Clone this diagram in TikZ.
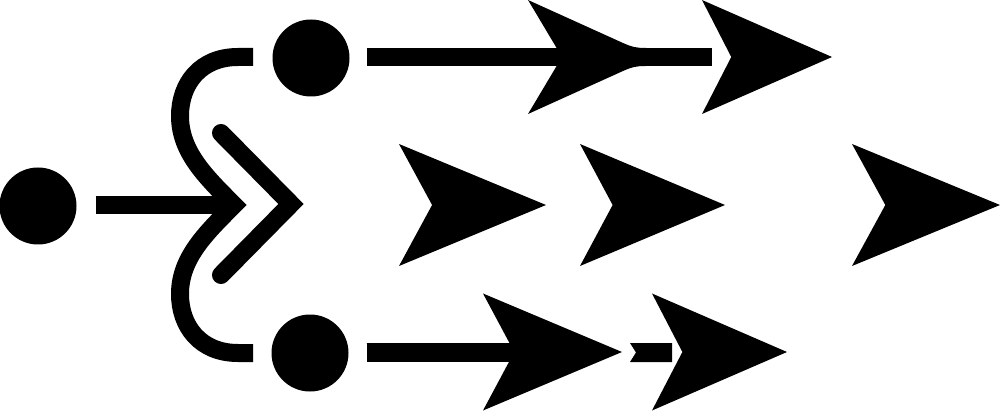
\documentclass[tikz,border=0pt]{standalone}
\usetikzlibrary{positioning}
\tikzset{
  dot/.style={circle,fill=black,inner sep=0pt,minimum size=77pt},
  shaft/.style={line width=18pt,line cap=butt},
  scurve/.style={line width=18pt,line cap=butt,miter limit=10},
  chev/.style={line width=18pt,line cap=round,miter limit=10}
}
% back x, centre y, half height, length
\newcommand{\ahead}[4]{\fill (#1,#2-#3)--(#1+#4,#2)--(#1,#2+#3)--(#1+0.225*#4,#2)--cycle;}
\begin{document}
\begin{tikzpicture}[x=1pt,y=-1pt]
	\useasboundingbox (0,0) rectangle (1000,411);
	\node[dot] (src) at (38,206) {};
	\node[dot] (up) at (311,58) {};
	\node[dot] (down) at (310,353) {};
	\coordinate (join) at (232,205);
	\draw[shaft] (src.east)++(19,-1)--(join);
	\draw[scurve] (253,57)--(238,57) .. controls (200,57) and (180,84) .. (180,116) .. controls (180,152) and (206,177) .. (234,205)
		.. controls (206,233) and (180,258) .. (180,294) .. controls (180,326) and (200,353) .. (238,353)--(253,353);
	\draw[chev] (221,133)--(291,204)--(221,275);
	% top row
	\draw[shaft] (up.east)++(17,-1)--(712,57);
	\fill (528,0)--(623,43) .. controls (632,47) and (636,48) .. (646,48)--(646,66) .. controls (636,66) and (632,67) .. (623,71)--(528,114)--(562,57)--cycle;
	\ahead{702}{57}{57}{130}
	% middle row
	\foreach \x/\l in {399/147,580/145,852/148}
		\ahead{\x}{205}{61}{\l}
	% bottom row
	\draw[shaft,line width=19pt] (down.east)++(18,-1)--(530,352);
	\ahead{483}{352}{58.5}{139}
	\fill (630,343)--(672,343)--(672,362)--(630,362)--(636,352.5)--cycle;
	\ahead{652}{352}{58.5}{135}
\end{tikzpicture}
\end{document}
